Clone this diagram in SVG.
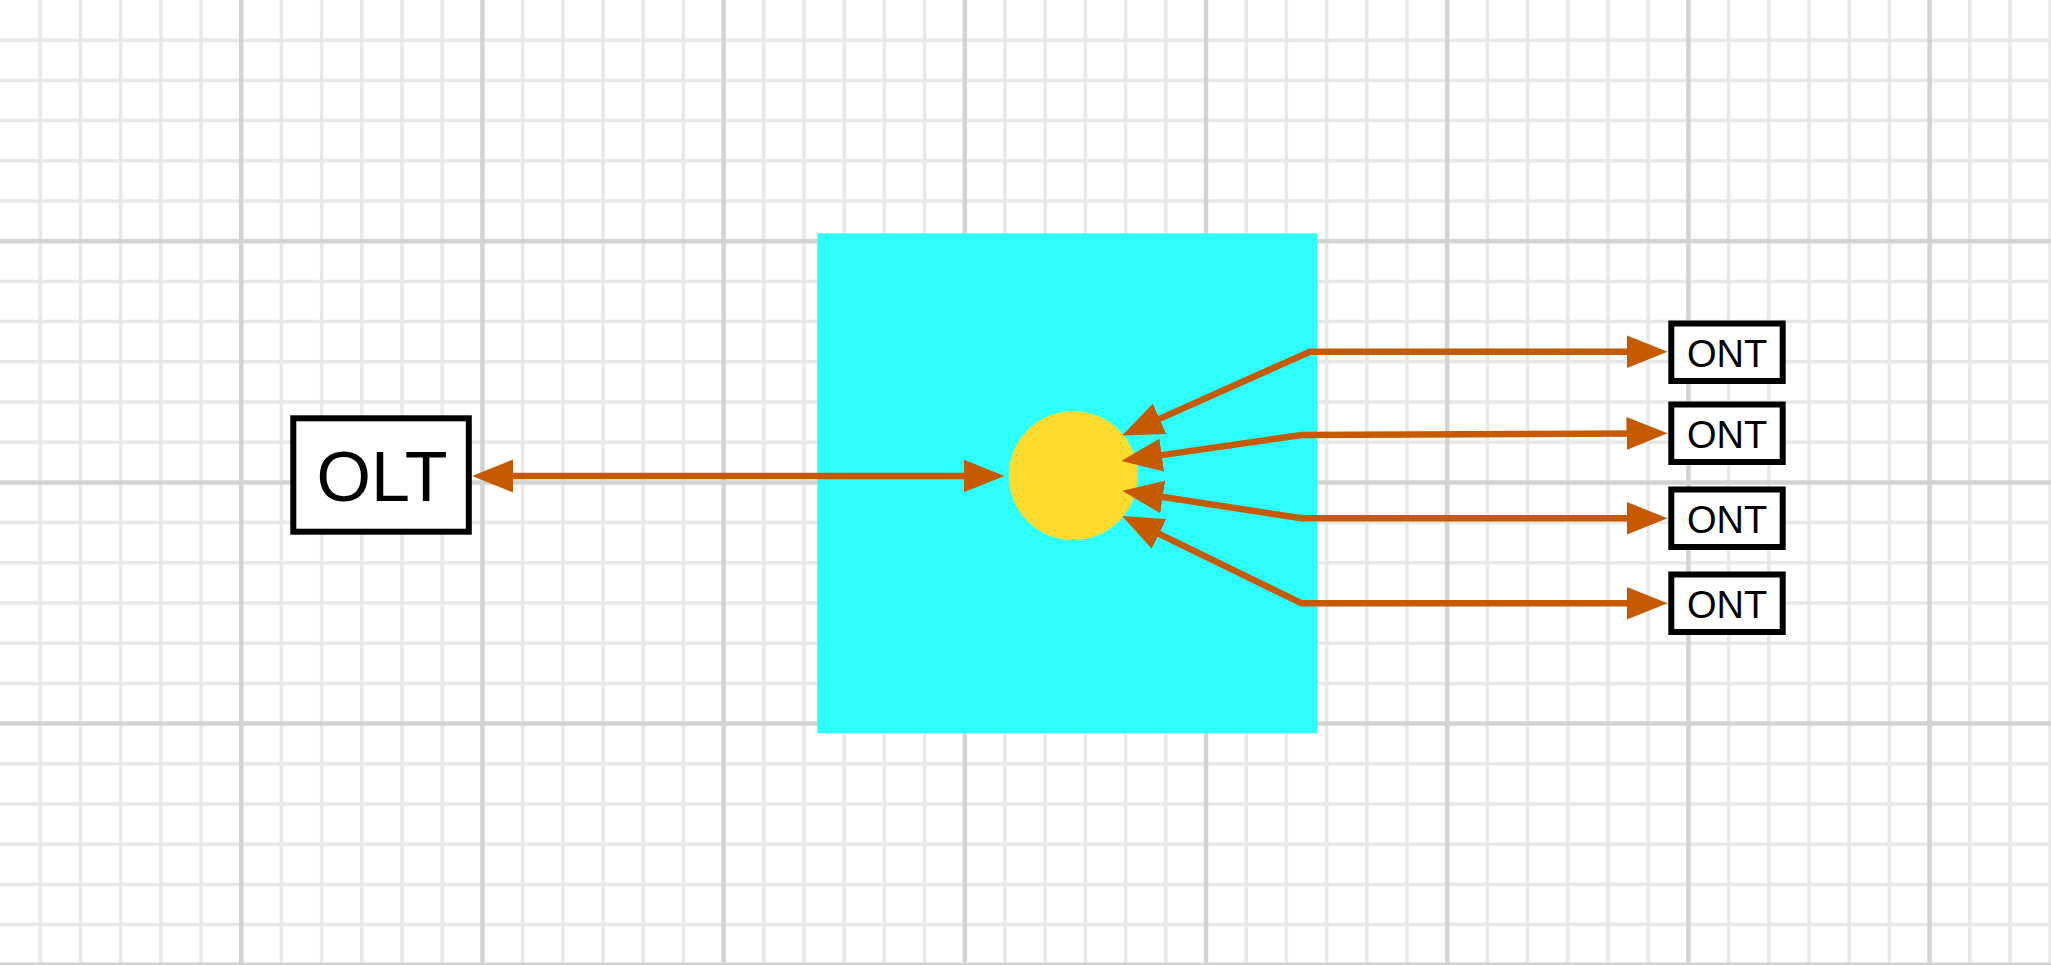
<svg xmlns="http://www.w3.org/2000/svg" width="2051" height="965" viewBox="0 0 2051 965">
  <style>
    .minor { stroke: #e8e8e8; stroke-width: 3.5; fill: none; }
    .major { stroke: #d3d3d3; stroke-width: 4.5; fill: none; }
    .box { fill: #ffffff; stroke: #000000; stroke-width: 6; }
    .lbl { font-family: "Liberation Sans", Arial, sans-serif; fill: #000000; text-anchor: middle; }
    .conn { fill: none; stroke: #c55a00; stroke-width: 6.5; stroke-linejoin: miter; }
  </style>
  <defs>
    <marker id="arrow" markerUnits="userSpaceOnUse" markerWidth="42" markerHeight="34" refX="21" refY="16.5" orient="auto-start-reverse" viewBox="0 0 42 34">
      <path d="M0,0 L41,16.5 L0,33 z" fill="#c55a00"/>
    </marker>
  </defs>
  <rect x="0" y="0" width="2051" height="965" fill="#ffffff"/>
  <g id="grid">
    <path class="minor" d="M40.2,0V965M80.4,0V965M120.6,0V965M160.8,0V965M201,0V965M281.4,0V965M321.6,0V965M361.8,0V965M402,0V965M442.2,0V965M522.6,0V965M562.8,0V965M603,0V965M643.2,0V965M683.4,0V965M763.8,0V965M804,0V965M844.2,0V965M884.4,0V965M924.6,0V965M1005,0V965M1045.2,0V965M1085.4,0V965M1125.6,0V965M1165.8,0V965M1246.2,0V965M1286.4,0V965M1326.6,0V965M1366.8,0V965M1407,0V965M1487.4,0V965M1527.6,0V965M1567.8,0V965M1608,0V965M1648.2,0V965M1728.6,0V965M1768.8,0V965M1809,0V965M1849.2,0V965M1889.4,0V965M1969.8,0V965M2010,0V965M2050.2,0V965
      M0,40.2H2051M0,80.4H2051M0,120.6H2051M0,160.8H2051M0,201H2051M0,281.4H2051M0,321.6H2051M0,361.8H2051M0,402H2051M0,442.2H2051M0,522.6H2051M0,562.8H2051M0,603H2051M0,643.2H2051M0,683.4H2051M0,763.8H2051M0,804H2051M0,844.2H2051M0,884.4H2051M0,924.6H2051"/>
    <path class="major" d="M241.2,0V965M482.4,0V965M723.6,0V965M964.8,0V965M1206,0V965M1447.2,0V965M1688.4,0V965M1929.6,0V965M0,241.2H2051M0,482.4H2051M0,723.6H2051M0,964.8H2051"/>
  </g>
  <g id="splitter">
    <rect x="817.3" y="233.3" width="500" height="500" fill="#2dffff"/>
    <circle cx="1073.3" cy="475.7" r="64.5" fill="#fddc2e"/>
  </g>
  <g id="olt">
    <rect class="box" x="293.3" y="418.3" width="175.5" height="113.4"/>
    <text class="lbl" x="382" y="500.7" font-size="70">OLT</text>
  </g>
  <g id="ont1">
    <rect class="box" x="1671.3" y="323.5" width="111.4" height="57.5"/>
    <text class="lbl" x="1727" y="367.3" font-size="38">ONT</text>
  </g>
  <g id="ont2">
    <rect class="box" x="1671.3" y="404.5" width="111.4" height="57.5"/>
    <text class="lbl" x="1727" y="448.3" font-size="38">ONT</text>
  </g>
  <g id="ont3">
    <rect class="box" x="1671.3" y="489.5" width="111.4" height="57.5"/>
    <text class="lbl" x="1727" y="533.3" font-size="38">ONT</text>
  </g>
  <g id="ont4">
    <rect class="box" x="1671.3" y="574.5" width="111.4" height="57.5"/>
    <text class="lbl" x="1727" y="618.3" font-size="38">ONT</text>
  </g>
  <g id="connectors">
    <path class="conn" marker-start="url(#arrow)" marker-end="url(#arrow)" d="M492.2,476 L984.5,476"/>
    <path class="conn" marker-start="url(#arrow)" marker-end="url(#arrow)" d="M1140.4,427.4 L1310,351.7 L1647.5,351.7"/>
    <path class="conn" marker-start="url(#arrow)" marker-end="url(#arrow)" d="M1141,458.1 L1301.7,435 L1647.5,433.4"/>
    <path class="conn" marker-start="url(#arrow)" marker-end="url(#arrow)" d="M1142,493.8 L1301.7,518.3 L1647.5,518.3"/>
    <path class="conn" marker-start="url(#arrow)" marker-end="url(#arrow)" d="M1140.1,524.7 L1301.7,603.3 L1647.5,603.3"/>
  </g>
</svg>
